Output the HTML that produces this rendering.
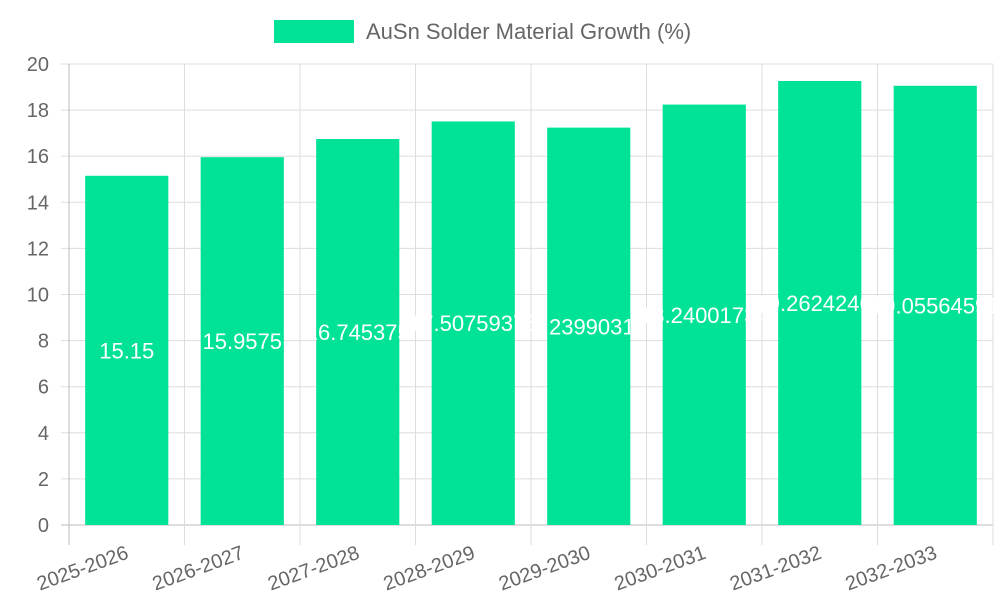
<!DOCTYPE html>
<html><head><meta charset="utf-8"><style>
html,body{margin:0;padding:0;background:#fff;}
svg{display:block;font-family:"Liberation Sans",sans-serif;}
</style></head><body>
<svg id="chart" width="1000" height="600" viewBox="0 0 1000 600">
<g id="legend">
<rect x="274" y="20" width="80" height="23" fill="#00e296"/>
<text x="366" y="39" font-size="22" fill="#666">AuSn Solder Material Growth (%)</text>
</g>
<g id="grid"></g><g id="bars"></g><g id="labels"></g><g id="axes"></g>
</svg>
<script>
const categories=["2025-2026","2026-2027","2027-2028","2028-2029","2029-2030","2030-2031","2031-2032","2032-2033"];
const values=[15.15,15.9575,16.745375,17.50759375,17.239903125,18.24001734,19.26242466,19.05564591];
const valueLabels=["15.15","15.9575","16.745375","17.50759375","17.239903125","18.24001734","19.26242466","19.05564591"];
const yTicks=[0,2,4,6,8,10,12,14,16,18,20];
const NS="http://www.w3.org/2000/svg";
const L=69,R=993,T=64,B=525,yMax=20;
const y=v=>B-(v/yMax)*(B-T);
const bw=(R-L)/categories.length;
const xc=i=>L+bw*(i+0.5);
function mk(tag,attrs,parent,txt){const e=document.createElementNS(NS,tag);for(const k in attrs)e.setAttribute(k,attrs[k]);if(txt!==undefined)e.textContent=txt;parent.appendChild(e);return e;}
const grid=document.getElementById('grid'),bars=document.getElementById('bars'),labels=document.getElementById('labels'),axes=document.getElementById('axes');
yTicks.forEach(t=>{
 const l=mk('line',{x1:L-8,x2:R,y1:y(t),y2:y(t),stroke:t===0?'#bbb':'#ddd','stroke-width':1},grid);
 
 
 const tx=mk('text',{x:L-20,y:y(t)+7,'text-anchor':'end','font-size':20,fill:'#666'},axes,String(t));
 
 
});
for(let i=0;i<=categories.length;i++){
 const x=L+bw*i;
 const l=mk('line',{x1:x,x2:x,y1:T,y2:B+20,stroke:i===0?'#bbb':'#ddd','stroke-width':1},grid);
 
 
}
categories.forEach((c,i)=>{
 const w=bw*0.72,v=values[i];
 const r=mk('rect',{x:xc(i)-w/2,y:y(v),width:w,height:B-y(v),fill:'#00e296'},bars);
 
 
 const t=mk('text',{x:xc(i),y:y(v/2)+8,'text-anchor':'middle','font-size':22,fill:'#fff'},labels,valueLabels[i]);
 
 
 const tl=mk('text',{x:0,y:0,'text-anchor':'end','font-size':20,fill:'#666',transform:'translate('+(xc(i)+3)+','+(B+33)+') rotate(-20)'},axes,c);
 
 
});
</script>
</body></html>
